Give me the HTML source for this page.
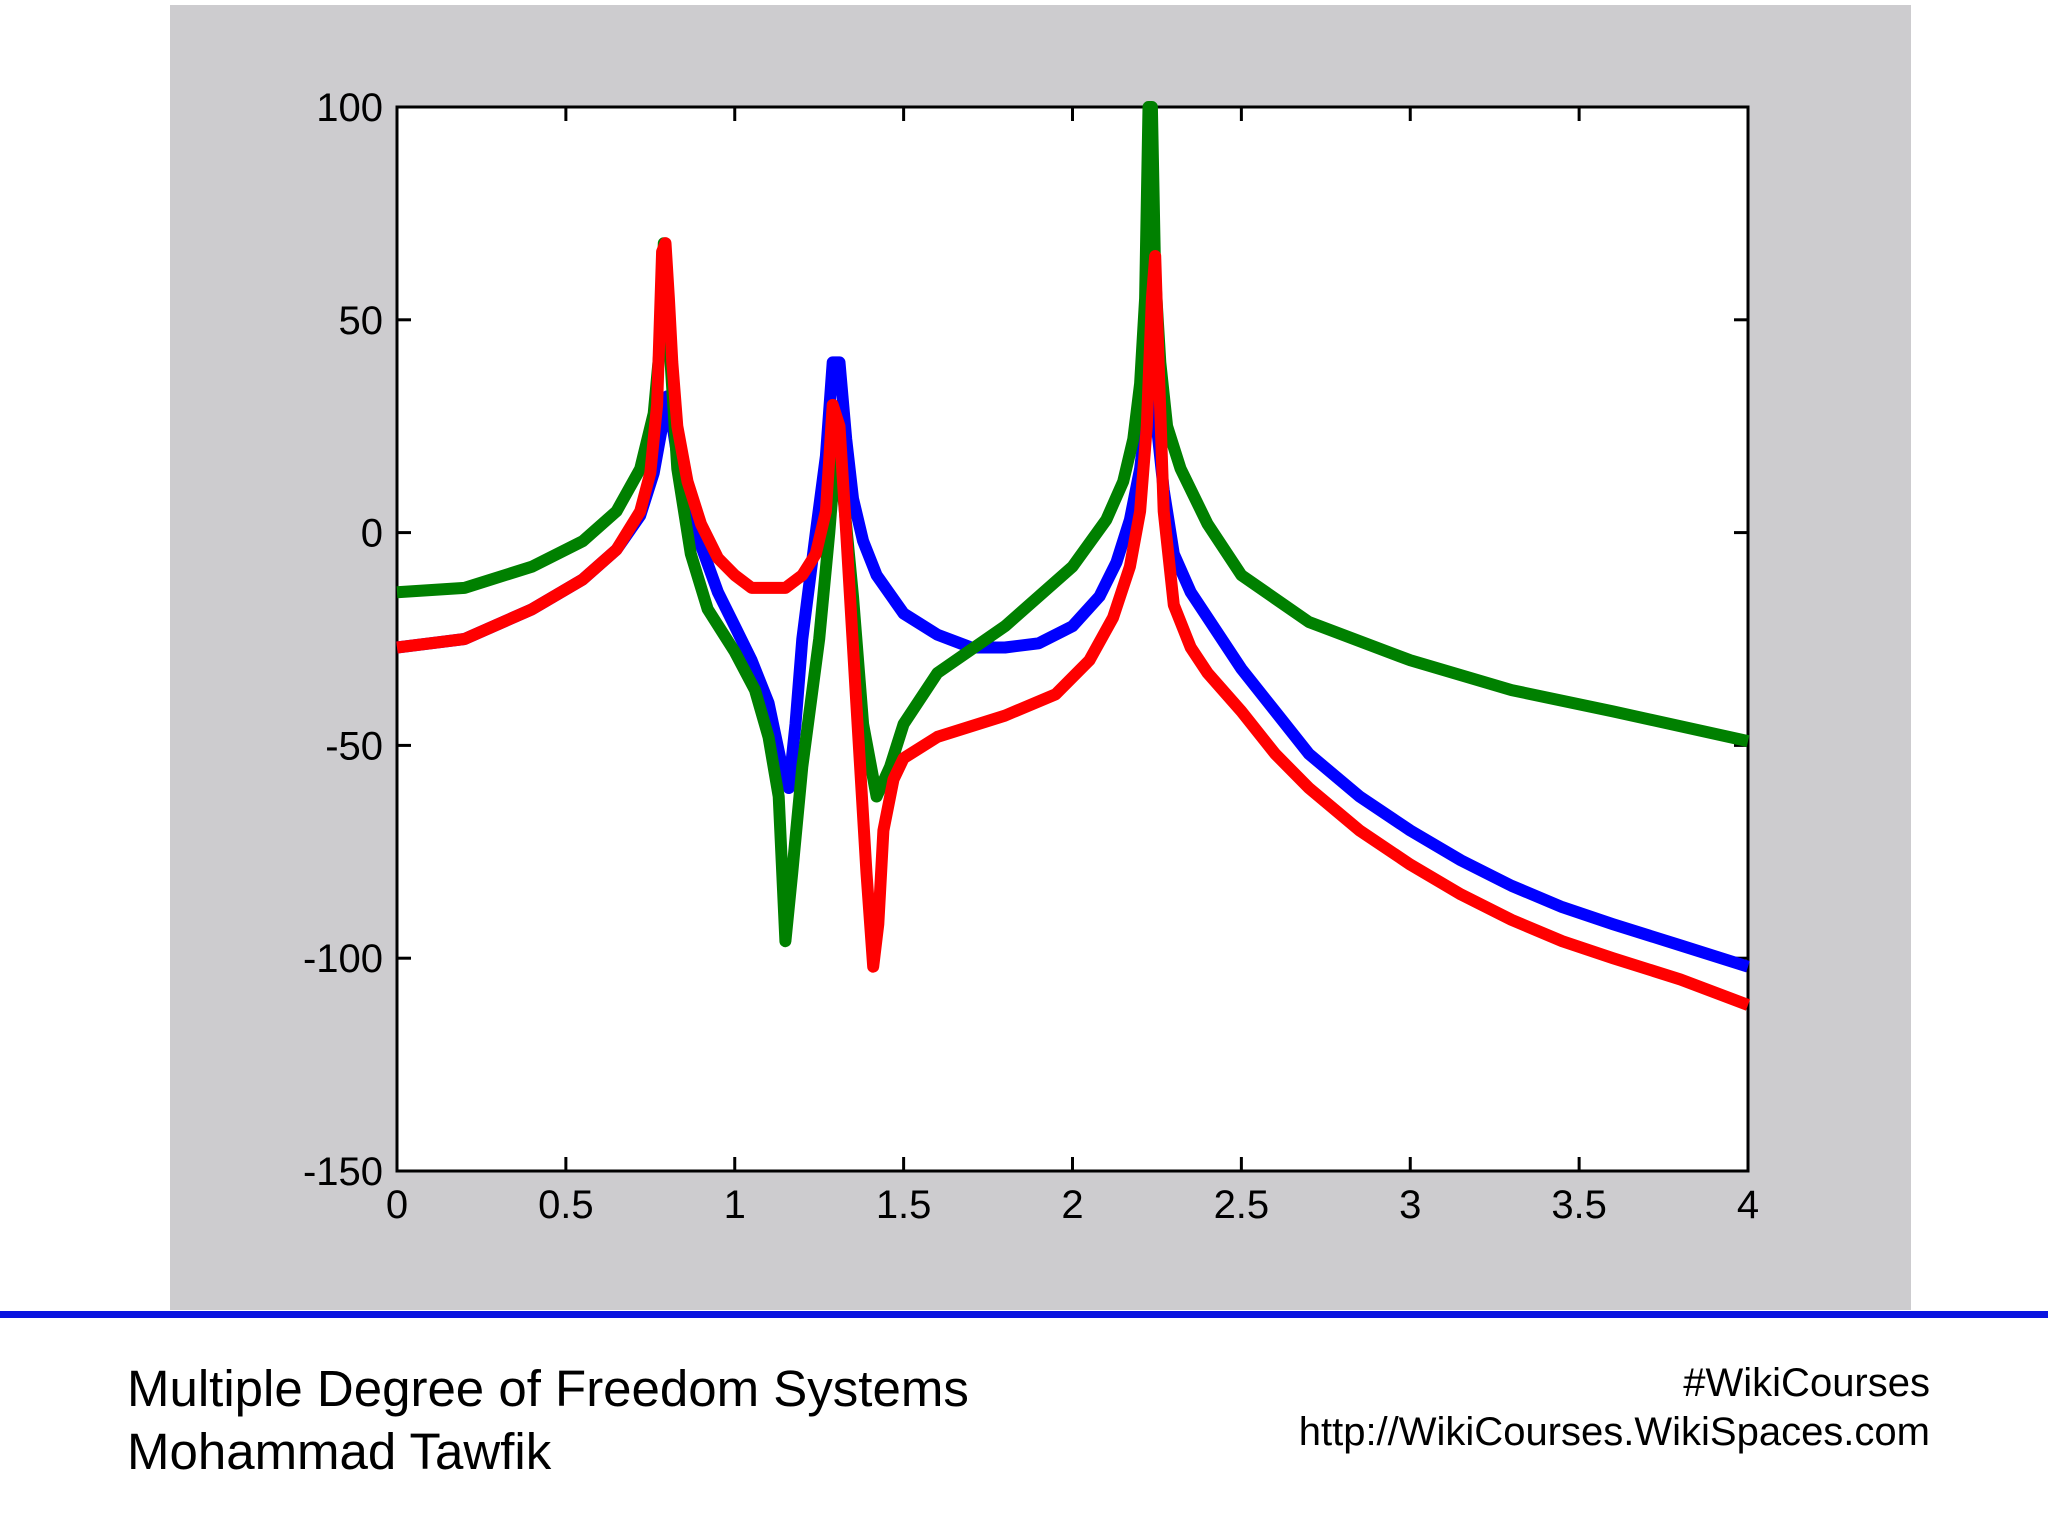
<!DOCTYPE html>
<html><head><meta charset="utf-8"><style>
html,body{margin:0;padding:0;background:#fff;width:2048px;height:1536px;overflow:hidden;font-family:"Liberation Sans",sans-serif}
svg{position:absolute;left:0;top:0}
</style></head><body>
<svg id="chart" width="2048" height="1536" xmlns="http://www.w3.org/2000/svg">
<rect x="170" y="5" width="1741" height="1305" fill="#cdcccf"/>
<rect x="397" y="107" width="1351" height="1064" fill="#fff" stroke="#000" stroke-width="3"/>
<g id="ticks"></g>
<g id="series"></g>
<rect x="0" y="1311" width="2048" height="7" fill="#0a14e0"/>
<text x="127" y="1406" font-size="51" fill="#000">Multiple Degree of Freedom Systems</text>
<text x="127" y="1469" font-size="51" fill="#000">Mohammad Tawfik</text>
<text x="1930" y="1396" font-size="40" fill="#000" text-anchor="end">#WikiCourses</text>
<text x="1930" y="1445" font-size="40" fill="#000" text-anchor="end">http://WikiCourses.WikiSpaces.com</text>
</svg>
<script>
const xTicks=[0,0.5,1,1.5,2,2.5,3,3.5,4];
const xTickLabels=["0","0.5","1","1.5","2","2.5","3","3.5","4"];
const yTicks=[100,50,0,-50,-100,-150];
const yTickLabels=["100","50","0","-50","-100","-150"];
const blueX=[0,0.2,0.4,0.55,0.65,0.72,0.76,0.79,0.8,0.81,0.83,0.86,0.9,0.95,1.0,1.05,1.1,1.14,1.16,1.18,1.2,1.24,1.27,1.29,1.31,1.33,1.35,1.38,1.42,1.5,1.6,1.7,1.8,1.9,2.0,2.08,2.13,2.17,2.2,2.22,2.235,2.25,2.27,2.3,2.35,2.4,2.5,2.6,2.7,2.85,3.0,3.15,3.3,3.45,3.6,3.8,4.0];
const blueY=[-27,-25,-18,-11,-4,4,14,27,32,28,18,8,-3,-14,-22,-30,-40,-55,-60,-45,-25,0,18,40,40,22,8,-2,-10,-19,-24,-27,-27,-26,-22,-15,-7,3,15,28,35,25,10,-5,-14,-20,-32,-42,-52,-62,-70,-77,-83,-88,-92,-97,-102];
const redX=[0,0.2,0.4,0.55,0.65,0.72,0.75,0.77,0.785,0.795,0.805,0.815,0.83,0.86,0.9,0.95,1.0,1.05,1.15,1.2,1.24,1.27,1.29,1.31,1.33,1.36,1.39,1.41,1.425,1.44,1.47,1.5,1.6,1.8,1.95,2.05,2.12,2.17,2.2,2.22,2.235,2.245,2.255,2.27,2.3,2.35,2.4,2.5,2.6,2.7,2.85,3.0,3.15,3.3,3.45,3.6,3.8,4.0];
const redY=[-27,-25,-18,-11,-4,5,14,30,66,68,55,40,25,12,2,-6,-10,-13,-13,-10,-5,5,30,25,0,-40,-80,-102,-92,-70,-58,-53,-48,-43,-38,-30,-20,-8,5,25,55,65,40,5,-17,-27,-33,-42,-52,-60,-70,-78,-85,-91,-96,-100,-105,-111];
const greenX=[0,0.2,0.4,0.55,0.65,0.72,0.76,0.78,0.79,0.8,0.81,0.83,0.87,0.92,1.0,1.06,1.1,1.13,1.15,1.17,1.2,1.25,1.28,1.3,1.32,1.35,1.38,1.42,1.46,1.5,1.6,1.8,2.0,2.1,2.15,2.18,2.2,2.215,2.225,2.235,2.245,2.26,2.28,2.32,2.4,2.5,2.7,3.0,3.3,3.6,4.0];
const greenY=[-14,-13,-8,-2,5,15,28,45,68,60,40,15,-5,-18,-28,-37,-48,-62,-96,-80,-55,-25,0,20,10,-15,-45,-62,-55,-45,-33,-22,-8,3,12,22,35,55,100,100,60,40,25,15,2,-10,-21,-30,-37,-42,-49];
const NS="http://www.w3.org/2000/svg";
const L=397,R=1748,T=107,B=1171;
function sx(v){return L+(v-0)/(4-0)*(R-L);}
function sy(v){return B-(v+150)/(250)*(B-T);}
const tk=document.getElementById('ticks');
function mk(tag,attrs,parent){const e=document.createElementNS(NS,tag);for(const k in attrs)e.setAttribute(k,attrs[k]);parent.appendChild(e);return e;}
xTicks.forEach((v,i)=>{
  const x=sx(v);
  if(i>0&&i<xTicks.length-1){
    const t1=mk('line',{x1:x,x2:x,y1:B,y2:B-14,stroke:'#000','stroke-width':3},tk);
    
    
    const t2=mk('line',{x1:x,x2:x,y1:T,y2:T+14,stroke:'#000','stroke-width':3},tk);
    
    
  }
  const lb=mk('text',{x:x,y:1218,'font-size':40,'text-anchor':'middle',fill:'#000'},tk);
  lb.textContent=xTickLabels[i];
  
  
});
yTicks.forEach((v,i)=>{
  const y=sy(v);
  if(i>0&&i<yTicks.length-1){
    const t1=mk('line',{x1:L,x2:L+14,y1:y,y2:y,stroke:'#000','stroke-width':3},tk);
    
    
    const t2=mk('line',{x1:R,x2:R-14,y1:y,y2:y,stroke:'#000','stroke-width':3},tk);
    
    
  }
  const lb=mk('text',{x:L-14,y:y+14,'font-size':40,'text-anchor':'end',fill:'#000'},tk);
  lb.textContent=yTickLabels[i];
  
  
});
const sg=document.getElementById('series');
function line(xs,ys,color,name){
  const d=xs.map((v,i)=>(i?'L':'M')+sx(v).toFixed(1)+','+sy(ys[i]).toFixed(1)).join(' ');
  const p=mk('path',{d:d,fill:'none',stroke:color,'stroke-width':12,'stroke-linejoin':'round','stroke-linecap':'butt'},sg);
  
  
}
line(blueX,blueY,'#0000ff','series-blue');
line(greenX,greenY,'#008000','series-green');
line(redX,redY,'#ff0000','series-red');
</script>
</body></html>
